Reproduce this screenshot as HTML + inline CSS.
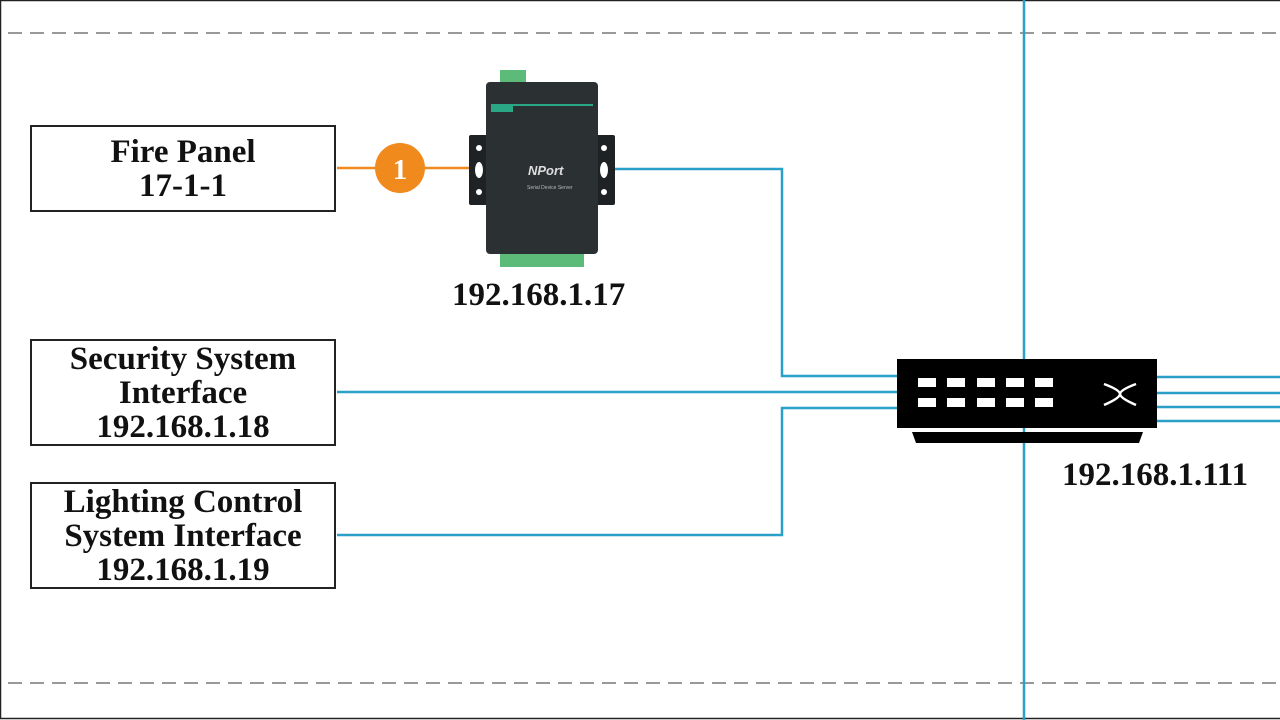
<!DOCTYPE html>
<html><head><style>
body{margin:0;width:1280px;height:720px;background:#fff;overflow:hidden;position:relative;font-family:"Liberation Serif",serif}
.box{position:absolute;left:30px;width:302px;border:2px solid #222;box-sizing:content-box;text-align:center;font-weight:bold;font-size:33px;line-height:34px;color:#111;display:flex;align-items:center;justify-content:center}
.lbl{position:absolute;font-weight:bold;font-size:33px;color:#111}
</style></head><body>
<svg width="1280" height="720" style="position:absolute;left:0;top:0">
<rect x="0.5" y="0.5" width="1290" height="718" fill="none" stroke="#222" stroke-width="1.5"/>
<line x1="8" y1="33" x2="1280" y2="33" stroke="#999" stroke-width="2" stroke-dasharray="14,8"/>
<line x1="8" y1="683" x2="1280" y2="683" stroke="#999" stroke-width="2" stroke-dasharray="14,8"/>
<line x1="1024" y1="0" x2="1024" y2="720" stroke="#2a9fc8" stroke-width="2.5"/>
<g fill="none" stroke="#2a9fc8" stroke-width="2.5">
<polyline points="612,169 782,169 782,376 900,376"/>
<line x1="337" y1="392" x2="900" y2="392"/>
<polyline points="337,535 782,535 782,408 900,408"/>
<line x1="1155" y1="377" x2="1280" y2="377"/>
<line x1="1155" y1="393" x2="1280" y2="393"/>
<line x1="1155" y1="407" x2="1280" y2="407"/>
<line x1="1155" y1="421" x2="1280" y2="421"/>
</g>
<line x1="337" y1="168" x2="472" y2="168" stroke="#f08a1c" stroke-width="2.5"/>
<circle cx="400" cy="168" r="25" fill="#f08a1c"/>
<text x="400" y="179" font-family="Liberation Serif" font-weight="bold" font-size="29" fill="#fff" text-anchor="middle">1</text>
<rect x="500" y="70" width="26" height="14" fill="#5dbb7a"/>
<rect x="500" y="251" width="84" height="16" fill="#5dbb7a"/>
<rect x="469" y="135" width="20" height="70" rx="2" fill="#1e2224"/>
<rect x="595" y="135" width="20" height="70" rx="2" fill="#1e2224"/>
<ellipse cx="479" cy="170" rx="4" ry="8" fill="#fff"/>
<ellipse cx="604" cy="170" rx="4" ry="8" fill="#fff"/>
<circle cx="479" cy="148" r="3" fill="#fff"/><circle cx="479" cy="192" r="3" fill="#fff"/>
<circle cx="604" cy="148" r="3" fill="#fff"/><circle cx="604" cy="192" r="3" fill="#fff"/>
<rect x="486" y="82" width="112" height="172" rx="4" fill="#2b3033"/>
<rect x="491" y="104" width="22" height="8" fill="#2aa886"/>
<rect x="513" y="104" width="80" height="2" fill="#2aa886"/>
<text x="528" y="175" font-family="Liberation Sans" font-style="italic" font-weight="bold" font-size="13" fill="#ddd">NPort</text>
<text x="527" y="189" font-family="Liberation Sans" font-size="5" fill="#bbb">Serial Device Server</text>
<rect x="897" y="359" width="260" height="69" fill="#000"/>
<polygon points="912,432 1143,432 1139,443 916,443" fill="#000"/>
<g fill="#fff">
<rect x="918" y="378" width="18" height="9"/><rect x="947" y="378" width="18" height="9"/><rect x="977" y="378" width="18" height="9"/><rect x="1006" y="378" width="18" height="9"/><rect x="1035" y="378" width="18" height="9"/>
<rect x="918" y="398" width="18" height="9"/><rect x="947" y="398" width="18" height="9"/><rect x="977" y="398" width="18" height="9"/><rect x="1006" y="398" width="18" height="9"/><rect x="1035" y="398" width="18" height="9"/>
</g>
<g stroke="#fff" stroke-width="2.5" fill="none">
<path d="M1104,384 Q1120,390 1120,394 Q1120,398 1136,405"/>
<path d="M1104,405 Q1120,398 1120,394 Q1120,390 1136,384"/>
</g>
</svg>
<div class="box" style="top:125px;height:83px">Fire Panel<br>17-1-1</div>
<div class="box" style="top:339px;height:103px">Security System<br>Interface<br>192.168.1.18</div>
<div class="box" style="top:482px;height:103px">Lighting Control<br>System Interface<br>192.168.1.19</div>
<div class="lbl" style="left:452px;top:277px">192.168.1.17</div>
<div class="lbl" style="left:1062px;top:457px">192.168.1.111</div>
</body></html>
